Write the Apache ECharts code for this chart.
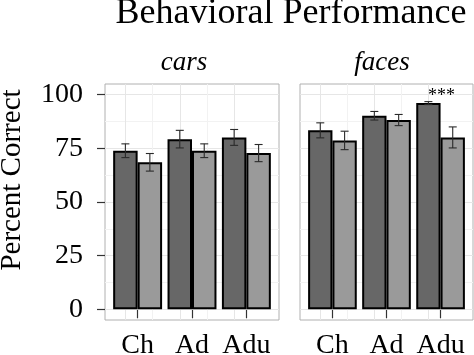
<!DOCTYPE html>
<html><head><meta charset="utf-8">
<script src="https://cdn.jsdelivr.net/npm/echarts@6/dist/echarts.min.js"></script>
<style>html,body{margin:0;padding:0;background:#fff}#c{width:474px;height:355px}</style>
</head><body><div id="c"></div>
<script>
const categories = ['Ch', 'Ad', 'Adu'];
const panels = ['cars', 'faces'];
const yTicks = [0, 25, 50, 75, 100];
const yMinor = [12.5, 37.5, 62.5, 87.5];

const carsDark = [73.9, 79.3, 80.1];
const carsDarkErr = [3.2, 4.1, 3.7];
const carsLight = [68.5, 73.9, 72.8];
const carsLightErr = [4.1, 3.2, 4.0];

const facesDark = [83.4, 90.2, 96.1];
const facesDarkErr = [3.5, 2.0, 0.7];
const facesLight = [78.7, 88.2, 80.1];
const facesLightErr = [4.3, 2.6, 4.9];

const sigPanel = [1];
const sigCategory = ['Adu'];
const sigText = ['***'];
const sigY = [100];

const SERIF = '"Liberation Serif", "DejaVu Serif", serif';
const DARK = '#676767', LIGHT = '#9a9a9a';
const DODGE = 0.225;

const panelData = [
  {dark: carsDark, darkErr: carsDarkErr, light: carsLight, lightErr: carsLightErr},
  {dark: facesDark, darkErr: facesDarkErr, light: facesLight, lightErr: facesLightErr}
];

const grids = [
  {left: 105, top: 84, width: 174, height: 236},
  {left: 300, top: 84, width: 173, height: 236}
].map(g => Object.assign(g, {show: true, borderColor: '#b0b0b0', borderWidth: 1, backgroundColor: '#fff', containLabel: false, outerBoundsMode: 'none'}));

const xAxes = panels.map((p, i) => ({
  type: 'value', gridIndex: i, min: 0.4, max: 3.6,
  axisLine: {show: false},
  splitLine: {show: false},
  axisTick: {show: true, customValues: [1, 2, 3], length: 9, lineStyle: {color: '#333', width: 1.2}},
  axisLabel: {show: true, customValues: [1, 2, 3], margin: 12, hideOverlap: false,
    formatter: v => categories[Math.round(v) - 1] || '',
    fontFamily: SERIF, fontSize: 28, color: '#000'}
}));

const yAxes = panels.map((p, i) => ({
  type: 'value', gridIndex: i, min: -5, max: 105,
  axisLine: {show: false},
  splitLine: {show: false},
  axisTick: {show: i === 0, customValues: yTicks, length: 8, lineStyle: {color: '#333', width: 1.2}},
  axisLabel: {show: i === 0, customValues: yTicks, margin: 22,
    fontFamily: SERIF, fontSize: 28, color: '#000'}
}));

const series = [];
panels.forEach((p, i) => {
  const d = panelData[i];
  const gridLines = [];
  yTicks.forEach(v => gridLines.push({yAxis: v, lineStyle: {color: '#e6e6e6', width: 1, type: 'solid'}}));
  yMinor.forEach(v => gridLines.push({yAxis: v, lineStyle: {color: '#f2f2f2', width: 1, type: 'solid'}}));
  [1, 2, 3].forEach(v => gridLines.push({xAxis: v, lineStyle: {color: '#e6e6e6', width: 1, type: 'solid'}}));
  [1.5, 2.5].forEach(v => gridLines.push({xAxis: v, lineStyle: {color: '#f2f2f2', width: 1, type: 'solid'}}));
  series.push({
    type: 'bar', name: p + '-dark', xAxisIndex: i, yAxisIndex: i,
    data: d.dark.map((v, k) => [k + 1, v]),
    barWidth: '45%', barGap: '0%', z: 2,
    itemStyle: {color: DARK, borderColor: '#000', borderWidth: 2},
    markLine: {silent: true, symbol: 'none', z: 1, label: {show: false}, lineStyle: {type: 'solid'}, data: gridLines, animation: false}
  });
  series.push({
    type: 'bar', name: p + '-light', xAxisIndex: i, yAxisIndex: i,
    data: d.light.map((v, k) => [k + 1, v]),
    barWidth: '45%', barGap: '0%', z: 2,
    itemStyle: {color: LIGHT, borderColor: '#000', borderWidth: 2}
  });
  const errData = [];
  d.dark.forEach((v, k) => errData.push([k + 1 - DODGE, v - d.darkErr[k], v + d.darkErr[k]]));
  d.light.forEach((v, k) => errData.push([k + 1 + DODGE, v - d.lightErr[k], v + d.lightErr[k]]));
  series.push({
    type: 'custom', xAxisIndex: i, yAxisIndex: i, z: 4, silent: true,
    data: errData,
    renderItem: (params, api) => {
      const lo = api.coord([api.value(0), api.value(1)]);
      const hi = api.coord([api.value(0), api.value(2)]);
      const hw = 4;
      const st = {stroke: '#2a2a2a', lineWidth: 1.1};
      return {type: 'group', children: [
        {type: 'line', shape: {x1: lo[0], y1: lo[1], x2: hi[0], y2: hi[1]}, style: st},
        {type: 'line', shape: {x1: lo[0] - hw, y1: lo[1], x2: lo[0] + hw, y2: lo[1]}, style: st},
        {type: 'line', shape: {x1: hi[0] - hw, y1: hi[1], x2: hi[0] + hw, y2: hi[1]}, style: st}
      ]};
    }
  });
});

sigPanel.forEach((pi, k) => {
  series.push({
    type: 'custom', xAxisIndex: pi, yAxisIndex: pi, z: 5, silent: true,
    data: [[categories.indexOf(sigCategory[k]) + 1, sigY[k]]],
    renderItem: (params, api) => {
      const c = api.coord([api.value(0), api.value(1)]);
      return {type: 'text', style: {text: sigText[k], x: c[0] + 1, y: c[1] + 2,
        font: '18px ' + SERIF, fill: '#000', align: 'center', verticalAlign: 'middle'}};
    }
  });
});

const chart = echarts.init(document.getElementById('c'), null, {renderer: 'canvas'});
chart.setOption({
  animation: false,
  backgroundColor: '#fff',
  grid: grids,
  xAxis: xAxes,
  yAxis: yAxes,
  series: series,
  graphic: [
    {type: 'text', style: {text: 'Behavioral Performance', x: 291, y: 14, font: '36px ' + SERIF, fill: '#000', align: 'center', verticalAlign: 'middle'}},
    {type: 'text', style: {text: panels[0], x: 184, y: 63, font: 'italic 27px ' + SERIF, fill: '#000', align: 'center', verticalAlign: 'middle'}},
    {type: 'text', style: {text: panels[1], x: 382, y: 63, font: 'italic 27px ' + SERIF, fill: '#000', align: 'center', verticalAlign: 'middle'}},
    {type: 'text', rotation: Math.PI / 2, x: 12, y: 180, style: {text: 'Percent Correct', x: 0, y: 0, font: '29px ' + SERIF, fill: '#000', align: 'center', verticalAlign: 'middle'}}
  ]
});
</script>
</body></html>
